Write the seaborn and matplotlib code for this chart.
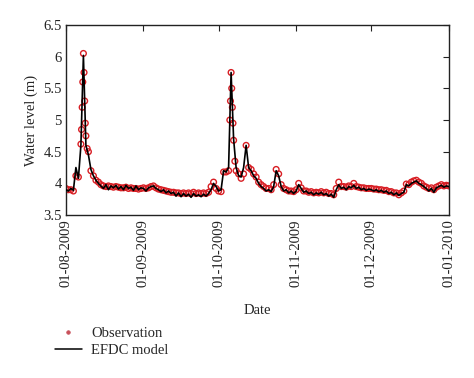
import numpy as np
import pandas as pd
import matplotlib
matplotlib.use("Agg")
import matplotlib.pyplot as plt
import matplotlib.dates as mdates
from matplotlib.lines import Line2D
import seaborn as sns

# ---- data (daily, day 0 = 01-08-2009) ----
start_date = "2009-08-01"
model_level = [
    # Aug
    3.90, 3.88, 3.92, 3.89, 4.25, 4.08, 4.60, 6.02, 4.60, 4.45, 4.22, 4.12, 4.05, 4.00, 3.96, 3.92,
    3.98, 3.90, 3.96, 3.93, 3.97, 3.91, 3.95, 3.90, 3.97, 3.92, 3.94, 3.89, 3.96, 3.90, 3.93,
    # Sep
    3.92, 3.88, 3.93, 3.95, 3.96, 3.92, 3.90, 3.87, 3.90, 3.85, 3.88, 3.84, 3.86, 3.80, 3.85,
    3.79, 3.84, 3.80, 3.83, 3.78, 3.84, 3.80, 3.82, 3.79, 3.83, 3.80, 3.84, 3.90, 4.00, 3.95,
    # Oct
    3.88, 3.90, 4.20, 4.18, 4.25, 5.75, 4.70, 4.25, 4.12, 4.10, 4.25, 4.60, 4.25, 4.20, 4.12,
    4.08, 4.00, 3.95, 3.92, 3.88, 3.90, 3.87, 3.95, 4.20, 4.12, 3.95, 3.88, 3.90, 3.85, 3.88, 3.84,
    # Nov
    3.88, 3.98, 3.92, 3.86, 3.88, 3.84, 3.86, 3.82, 3.85, 3.83, 3.86, 3.82, 3.84, 3.80, 3.83,
    3.78, 3.90, 3.98, 3.92, 3.94, 3.90, 3.95, 3.93, 3.97, 3.92, 3.94, 3.90, 3.92, 3.89, 3.91,
    # Dec
    3.90, 3.88, 3.90, 3.87, 3.89, 3.86, 3.88, 3.84, 3.86, 3.82, 3.85, 3.81, 3.84, 3.86, 3.98,
    3.96, 4.00, 4.02, 4.04, 4.00, 3.98, 3.95, 3.92, 3.88, 3.92, 3.86, 3.93, 3.95, 3.97, 3.94, 3.96,
    # 01-01-2010
    3.95,
]
obs_level = [
    # Aug
    3.92, 3.90, 3.90, 3.88, 4.12, 4.10, 4.62, 6.05, 4.75, 4.50, 4.20, 4.12, 4.05, 4.02, 3.98, 3.96,
    3.95, 3.96, 3.95, 3.94, 3.95, 3.94, 3.93, 3.93, 3.94, 3.92, 3.93, 3.92, 3.92, 3.91, 3.92,
    # Sep
    3.93, 3.92, 3.93, 3.95, 3.96, 3.93, 3.91, 3.90, 3.89, 3.88, 3.87, 3.86, 3.86, 3.85, 3.85,
    3.84, 3.85, 3.84, 3.85, 3.84, 3.86, 3.84, 3.85, 3.84, 3.85, 3.84, 3.86, 3.95, 4.02, 3.92,
    # Oct
    3.88, 3.87, 4.18, 4.18, 4.20, 5.75, 4.68, 4.20, 4.15, 4.08, 4.15, 4.60, 4.25, 4.22, 4.15,
    4.10, 4.02, 3.98, 3.95, 3.92, 3.92, 3.90, 3.98, 4.22, 4.15, 3.98, 3.92, 3.90, 3.88, 3.88, 3.87,
    # Nov
    3.90, 4.00, 3.93, 3.88, 3.88, 3.86, 3.87, 3.85, 3.86, 3.85, 3.87, 3.85, 3.86, 3.84, 3.84,
    3.82, 3.92, 4.02, 3.95, 3.95, 3.94, 3.96, 3.95, 4.00, 3.95, 3.94, 3.93, 3.93, 3.92, 3.92,
    # Dec
    3.92, 3.91, 3.91, 3.90, 3.90, 3.89, 3.89, 3.87, 3.87, 3.85, 3.85, 3.82, 3.85, 3.88, 3.99,
    3.98, 4.02, 4.04, 4.05, 4.02, 4.00, 3.96, 3.94, 3.92, 3.93, 3.90, 3.94, 3.96, 3.98, 3.96, 3.97,
    # 01-01-2010
    3.96,
]
# extra sub-daily observations during the two flood peaks (day offsets)
peak_obs_day = [6.25, 6.5, 6.75, 7.25, 7.5, 7.75, 8.5, 65.5, 65.75, 66.25, 66.5, 66.75, 67.5]
peak_obs_level = [4.85, 5.20, 5.60, 5.75, 5.30, 4.95, 4.55, 5.00, 5.30, 5.50, 5.20, 4.95, 4.35]

tick_dates = ["2009-08-01", "2009-09-01", "2009-10-01", "2009-11-01", "2009-12-01", "2010-01-01"]

# ---- build frames ----
t0 = pd.Timestamp(start_date)
dates = pd.date_range(start_date, periods=len(model_level), freq="D")
model_df = pd.DataFrame({"Date": dates, "Level": model_level})
obs_dates = list(dates) + [t0 + pd.Timedelta(days=d) for d in peak_obs_day]
obs_df = pd.DataFrame({"Date": obs_dates, "Level": obs_level + peak_obs_level}).sort_values("Date")

sns.set_style("white")
plt.rcParams["font.family"] = ["Liberation Serif", "DejaVu Serif"]
plt.rcParams["font.size"] = 10.5

fig = plt.figure(figsize=(4.74, 3.78), dpi=100)
ax = fig.add_axes([0.139, 0.431, 0.808, 0.503])

obs_color = "#d81e24"
sns.scatterplot(data=obs_df, x="Date", y="Level", ax=ax, marker="o", s=17,
                facecolors="none", edgecolor=obs_color, linewidth=1.0, zorder=2)
sns.lineplot(data=model_df, x="Date", y="Level", ax=ax, color="black", linewidth=1.2,
             zorder=3)

ax.set_xlim(pd.Timestamp(tick_dates[0]), pd.Timestamp(tick_dates[-1]))
ax.set_ylim(3.5, 6.5)
ax.set_yticks([3.5, 4, 4.5, 5, 5.5, 6, 6.5])
ax.set_yticklabels(["3.5", "4", "4.5", "5", "5.5", "6", "6.5"])
ax.set_xticks([pd.Timestamp(d) for d in tick_dates])
ax.xaxis.set_major_formatter(mdates.DateFormatter("%d-%m-%Y"))
plt.setp(ax.get_xticklabels(), rotation=90)

ax.tick_params(direction="in", top=True, right=True, length=4, width=0.8,
               labelsize=10.5, colors="#222222", pad=3)
for sp in ax.spines.values():
    sp.set_color("#222222")
    sp.set_linewidth(1.0)

ax.set_xlabel("Date", fontsize=10.5, labelpad=12)
ax.set_ylabel("Water level (m)", fontsize=10.5, labelpad=4)

handles = [
    Line2D([], [], linestyle="none", marker="o", markersize=2.6, markerfacecolor="#c8505a",
           markeredgecolor="#c8505a", markeredgewidth=0.5),
    Line2D([], [], color="black", linewidth=1.1),
]
fig.legend(handles, ["Observation", "EFDC model"], loc="upper left",
           bbox_to_anchor=(0.100, 0.155), frameon=False, fontsize=10.5,
           handlelength=1.85, handletextpad=0.65, labelspacing=0.25, borderpad=0)

fig.savefig("out.png", dpi=100)
